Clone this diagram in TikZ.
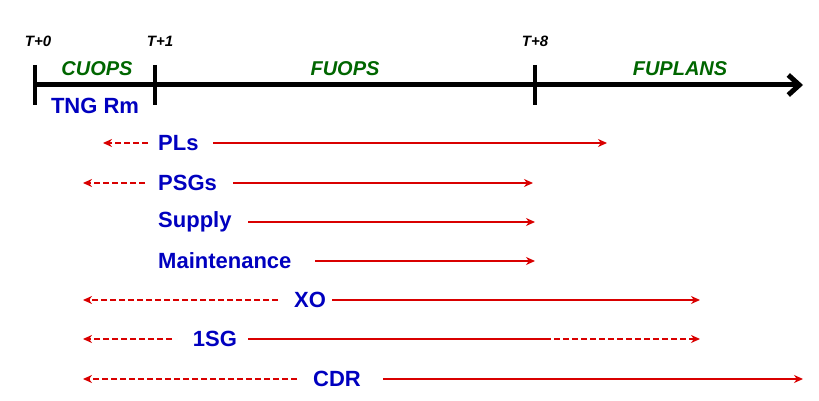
\documentclass[tikz,border=0pt]{standalone}
\usepackage{fontspec}
\setmainfont{Liberation Sans}
\usetikzlibrary{arrows.meta}
\begin{document}
\begin{tikzpicture}[x=1pt,y=-1pt,
 lab/.style={font=\bfseries\fontsize{22}{24}\selectfont,text=blue!75!black,inner sep=1pt},
 ph/.style={font=\bfseries\itshape\fontsize{20}{22}\selectfont,text=green!40!black},
 tt/.style={font=\bfseries\itshape\fontsize{15}{17}\selectfont},
 sol/.style={draw=red!85!black,line width=2pt,-{Stealth[length=9pt,width=8pt]}},
 das/.style={draw=red!85!black,line width=2pt,dash pattern=on 6pt off 3pt,-{Stealth[length=9pt,width=8pt]}},
 tick/.style={line width=4pt}]
\useasboundingbox (0,0) rectangle (819,401);
\coordinate (a0) at (35,85); \coordinate (aE) at (803,85);
\draw[line width=5pt,-{Straight Barb[length=11pt,width=20pt]}] (a0) -- (aE);
\foreach \x in {35,155,535}{\draw[tick] (\x,65) -- (\x,105);}
\node[tt] (T0) at (38,41) {T+0};
\node[tt] (T1) at (160,41) {T+1};
\node[tt] (T8) at (535,41) {T+8};
\node[ph] (cu) at (97,69) {CUOPS};
\node[ph] (fu) at (345,69) {FUOPS};
\node[ph] (fp) at (680,69) {FUPLANS};
\node[lab] (tng) at (95,106) {TNG Rm};
\node[lab,anchor=west] (pl) at (157,143) {PLs};
\draw[das] (148,143) -- (103,143);
\draw[sol] (213,143) -- (607,143);
\node[lab,anchor=west] (psg) at (157,183) {PSGs};
\draw[das] (145,183) -- (83,183);
\draw[sol] (233,183) -- (533,183);
\node[lab,anchor=west] (sup) at (157,222) {Supply};
\draw[sol] (248,222) -- (535,222);
\node[lab,anchor=west] (mnt) at (157,261) {Maintenance};
\draw[sol] (315,261) -- (535,261);
\node[lab] (xo) at (310,300) {XO};
\draw[das] (278,300) -- (83,300);
\draw[sol] (332,300) -- (700,300);
\node[lab] (sg) at (215,339) {1SG};
\draw[das] (172,339) -- (83,339);
\coordinate (m) at (545,339);
\draw[red!85!black,line width=2pt] (248,339) -- (m);
\draw[das] (m) -- (700,339);
\node[lab] (cdr) at (337,379) {CDR};
\draw[das] (297,379) -- (83,379);
\draw[sol] (383,379) -- (803,379);
\end{tikzpicture}
\end{document}
